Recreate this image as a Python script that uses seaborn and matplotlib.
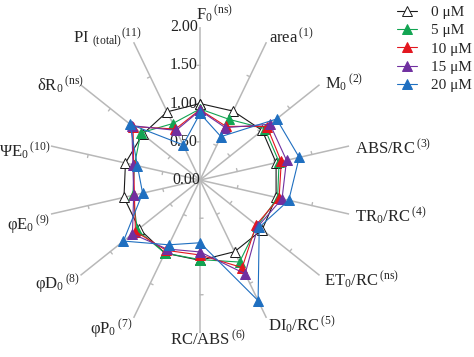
import matplotlib
matplotlib.use("Agg")
import matplotlib.pyplot as plt
import numpy as np
import seaborn as sns

# axis labels (clockwise from top)
params = [r"F$_0\,$$^{\mathrm{(ns)}}$", r"area$\,^{\mathrm{(1)}}$", r"M$_0\,$$^{\mathrm{(2)}}$",
          r"ABS/RC$\,^{\mathrm{(3)}}$", r"TR$_0$/RC$\,^{\mathrm{(4)}}$", r"ET$_0$/RC$\,^{\mathrm{(ns)}}$",
          r"DI$_0$/RC$\,^{\mathrm{(5)}}$", r"RC/ABS$\,^{\mathrm{(6)}}$", r"φP$_0\,$$^{\mathrm{(7)}}$",
          r"φD$_0\,$$^{\mathrm{(8)}}$", r"φE$_0\,$$^{\mathrm{(9)}}$", r"ΨE$_0\,$$^{\mathrm{(10)}}$",
          r"δR$_0\,$$^{\mathrm{(ns)}}$", r"PI $_{\mathrm{(total)}}$$^{\mathrm{(11)}}$"]

conc = ["0 μM", "5 μM", "10 μM", "15 μM", "20 μM"]
vals_0 = [1.00, 1.00, 1.04, 1.02, 1.02, 1.04, 1.04, 1.05, 1.06, 1.02, 1.02, 1.00, 0.96, 0.99]
vals_5 = [0.93, 0.88, 1.08, 1.06, 1.04, 0.96, 1.19, 1.04, 1.06, 1.05, 0.90, 0.88, 0.99, 0.82]
vals_10 = [0.92, 0.78, 1.12, 1.09, 1.06, 0.94, 1.27, 0.98, 1.02, 1.08, 0.88, 0.89, 1.12, 0.74]
vals_15 = [0.91, 0.76, 1.17, 1.16, 1.10, 0.97, 1.36, 0.94, 1.00, 1.13, 0.89, 0.90, 1.14, 0.72]
vals_20 = [0.87, 0.63, 1.28, 1.33, 1.19, 0.99, 1.75, 0.82, 0.94, 1.28, 0.77, 0.84, 1.17, 0.51]
series = [vals_0, vals_5, vals_10, vals_15, vals_20]
colors = ["#1a1a1a", "#12a452", "#e3161f", "#7030a0", "#1f6fc0"]
rticks = [0.0, 0.5, 1.0, 1.5, 2.0]

sns.set_style("white")
plt.rcParams["font.family"] = ["Liberation Serif", "DejaVu Serif"]
plt.rcParams["mathtext.fontset"] = "custom"
plt.rcParams["mathtext.rm"] = "Liberation Serif"
plt.rcParams["mathtext.it"] = "Liberation Serif:italic"

fig = plt.figure(figsize=(4.74, 3.57), dpi=100)
ax = fig.add_axes([0.0992, 0.0672, 0.6456, 0.857], projection="polar")
ax.set_theta_zero_location("N")
ax.set_theta_direction(-1)
ax.set_ylim(0, 2.0)

n = len(params)
theta = np.arange(n) * 2 * np.pi / n

# spokes with small ticks
for t in theta:
    ax.plot([t, t], [0, 2.0], color="#b8b8b8", lw=1.1, zorder=1)
    for r in rticks[1:-1]:
        ax.plot([t, t - 0.04 / r], [r, r], color="#b8b8b8", lw=1.0, zorder=1)

for r in rticks:
    ax.text(-0.03 / max(r, 0.2) if r > 0 else 0, r, f"{r:.2f}", ha="right", va="center",
            fontsize=11.5, color="#222222", zorder=2)

closed = np.append(theta, theta[0] + 2 * np.pi)
for name, vals, c in zip(conc, series, colors):
    v = np.append(vals, vals[0])
    mfc = "white" if name == "0 μM" else c
    sns.lineplot(x=closed, y=v, ax=ax, color=c, lw=0.8, marker="^", markersize=7.5,
                 markerfacecolor=mfc, markeredgecolor=c, markeredgewidth=0.7,
                 sort=False, estimator=None, label=name, zorder=3)

# axis labels: (ha, dx, dy) in pixels from the spoke end, baseline anchored
label_pos = [("left", -4, 7), ("left", 3, 0), ("left", 5, -5), ("left", 6, -8),
             ("left", 6, -8), ("left", 4, -11), ("left", 2, -13), ("center", 8, -12),
             ("right", -1, -16), ("right", 0, -13), ("right", -1, -15), ("right", 0, -11),
             ("right", 3, -7), ("right", 8, 0)]
for t, lab, (ha, dx, dy) in zip(theta, params, label_pos):
    ax.annotate(lab, xy=(t, 2.0), xytext=(dx, dy), textcoords="offset pixels",
                ha=ha, va="baseline", fontsize=12, annotation_clip=False)

ax.grid(False)
ax.set_xticks([])
ax.set_yticks([])
ax.spines["polar"].set_visible(False)
ax.set_xlabel("")
ax.set_ylabel("")

ax.legend_.remove()
h, l = ax.get_legend_handles_labels()
fig.legend(h, l, loc="upper right", bbox_to_anchor=(0.995, 0.985), frameon=False,
           borderaxespad=0, borderpad=0, fontsize=11, handlelength=1.3,
           handletextpad=0.9, labelspacing=0.3)

fig.savefig("out.png", dpi=100)
